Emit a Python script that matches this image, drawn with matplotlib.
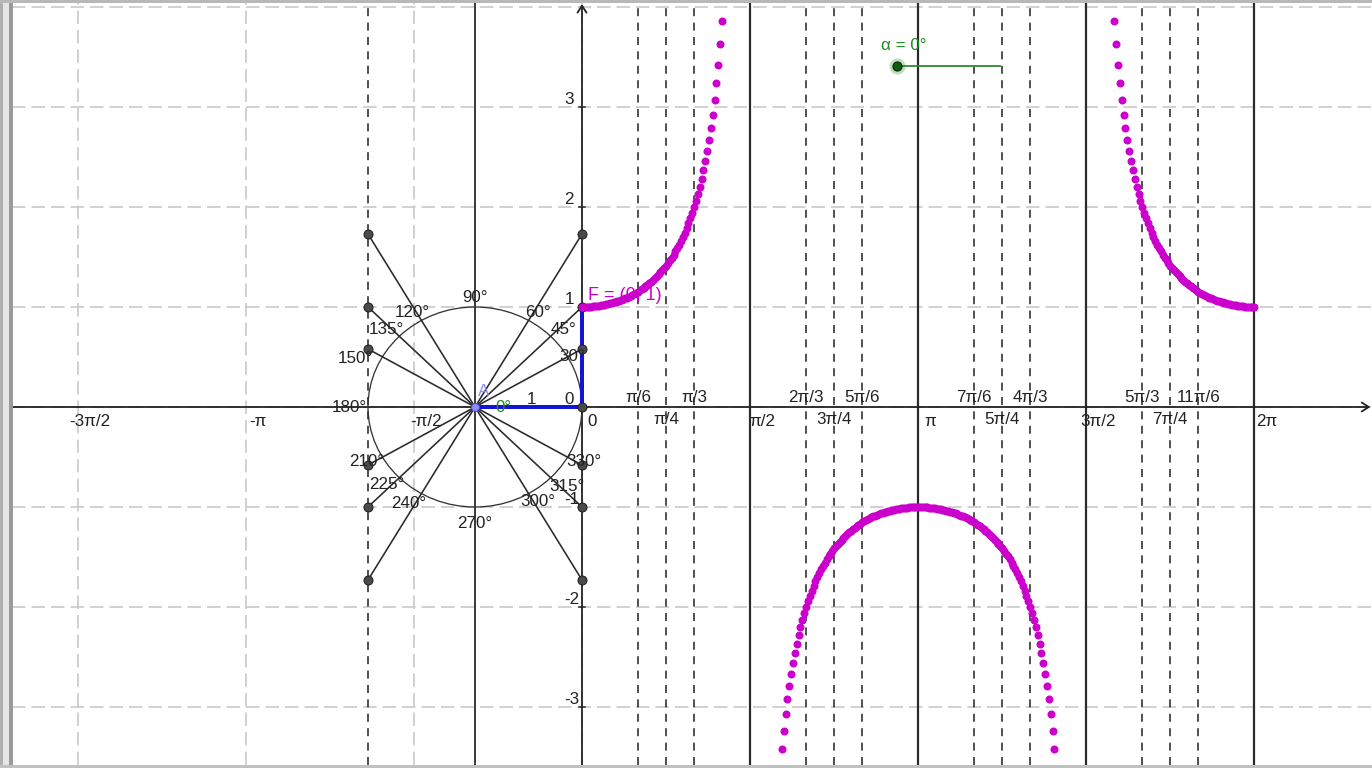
import numpy as np
import matplotlib.pyplot as plt
from matplotlib.patches import Ellipse, Rectangle

plt.rcParams['font.family'] = ['Liberation Sans', 'DejaVu Sans']

# ---- data ----
# F = (alpha, sec alpha), one point per degree; visible parts of the three branches
upper_deg = np.arange(0, 76)
upper_sec = [1.00, 1.00, 1.00, 1.00, 1.00, 1.00, 1.01, 1.01, 1.01, 1.01,
             1.02, 1.02, 1.02, 1.03, 1.03, 1.04, 1.04, 1.05, 1.05, 1.06,
             1.06, 1.07, 1.08, 1.09, 1.09, 1.10, 1.11, 1.12, 1.13, 1.14,
             1.15, 1.17, 1.18, 1.19, 1.21, 1.22, 1.24, 1.25, 1.27, 1.29,
             1.31, 1.33, 1.35, 1.37, 1.39, 1.41, 1.44, 1.47, 1.49, 1.52,
             1.56, 1.59, 1.62, 1.66, 1.70, 1.74, 1.79, 1.84, 1.89, 1.94,
             2.00, 2.06, 2.13, 2.20, 2.28, 2.37, 2.46, 2.56, 2.67, 2.79,
             2.92, 3.07, 3.24, 3.42, 3.63, 3.86]
lower_deg = np.arange(107, 254)
lower_sec = [-3.42, -3.24, -3.07, -2.92, -2.79, -2.67, -2.56, -2.46, -2.37, -2.28,
             -2.20, -2.13, -2.06, -2.00, -1.94, -1.89, -1.84, -1.79, -1.74, -1.70,
             -1.66, -1.62, -1.59, -1.56, -1.52, -1.49, -1.47, -1.44, -1.41, -1.39,
             -1.37, -1.35, -1.33, -1.31, -1.29, -1.27, -1.25, -1.24, -1.22, -1.21,
             -1.19, -1.18, -1.17, -1.15, -1.14, -1.13, -1.12, -1.11, -1.10, -1.09,
             -1.09, -1.08, -1.07, -1.06, -1.06, -1.05, -1.05, -1.04, -1.04, -1.03,
             -1.03, -1.02, -1.02, -1.02, -1.01, -1.01, -1.01, -1.01, -1.00, -1.00,
             -1.00, -1.00, -1.00, -1.00,
             -1.00, -1.00, -1.00, -1.00, -1.00, -1.01, -1.01, -1.01, -1.01, -1.02,
             -1.02, -1.02, -1.03, -1.03, -1.04, -1.04, -1.05, -1.05, -1.06, -1.06,
             -1.07, -1.08, -1.09, -1.09, -1.10, -1.11, -1.12, -1.13, -1.14, -1.15,
             -1.17, -1.18, -1.19, -1.21, -1.22, -1.24, -1.25, -1.27, -1.29, -1.31,
             -1.33, -1.35, -1.37, -1.39, -1.41, -1.44, -1.47, -1.49, -1.52, -1.56,
             -1.59, -1.62, -1.66, -1.70, -1.74, -1.79, -1.84, -1.89, -1.94, -2.00,
             -2.06, -2.13, -2.20, -2.28, -2.37, -2.46, -2.56, -2.67, -2.79, -2.92,
             -3.07, -3.24, -3.42]
right_deg = np.arange(285, 361)
right_sec = [3.86, 3.63, 3.42, 3.24, 3.07, 2.92, 2.79, 2.67, 2.56, 2.46,
             2.37, 2.28, 2.20, 2.13, 2.06, 2.00, 1.94, 1.89, 1.84, 1.79,
             1.74, 1.70, 1.66, 1.62, 1.59, 1.56, 1.52, 1.49, 1.47, 1.44,
             1.41, 1.39, 1.37, 1.35, 1.33, 1.31, 1.29, 1.27, 1.25, 1.24,
             1.22, 1.21, 1.19, 1.18, 1.17, 1.15, 1.14, 1.13, 1.12, 1.11,
             1.10, 1.09, 1.09, 1.08, 1.07, 1.06, 1.06, 1.05, 1.05, 1.04,
             1.04, 1.03, 1.03, 1.02, 1.02, 1.02, 1.01, 1.01, 1.01, 1.01,
             1.00, 1.00, 1.00, 1.00, 1.00, 1.00]

# angle labels round the unit circle
circle_angles = [30, 45, 60, 90, 120, 135, 150, 180, 210, 225, 240, 270, 300, 315, 330]
# points where the rays meet x = 0 / x = -2
tan_x = [0, 0, 0, 0, -2, -2, -2, -2, -2, -2, 0, 0, 0]
tan_y = [0, 0.58, 1, 1.73, 1.73, 1, 0.58, -0.58, -1, -1.73, -1.73, -1, -0.58]

main_mult = [-1.5, -1, -0.5, 0, 0.5, 1, 1.5, 2]
main_labels = ['-3π/2', '-π', '-π/2', '0', 'π/2', 'π', '3π/2', '2π']
special_mult = [1/6, 1/4, 1/3, 2/3, 3/4, 5/6, 7/6, 5/4, 4/3, 5/3, 7/4, 11/6]
special_labels = ['π/6', 'π/4', 'π/3', '2π/3', '3π/4', '5π/6',
                  '7π/6', '5π/4', '4π/3', '5π/3', '7π/4', '11π/6']
special_above = [True, False, True, True, False, True, True, False, True, True, False, True]
y_ticks = [-3, -2, -1, 0, 1, 2, 3]

# ---- figure ----
W, H = 1372, 768
fig = plt.figure(figsize=(W / 72, H / 72), dpi=72)
ox, oy, sx, sy = 582, 407, 107.0, 100.0   # origin pixel and pixels per unit
left_px, top_px, bot_px = 12, 2, 765
ax = fig.add_axes([left_px / W, (H - bot_px) / H, (W - left_px) / W, (bot_px - top_px) / H])
ax.set_xlim((left_px - ox) / sx, (W - ox) / sx)
ax.set_ylim((oy - bot_px) / sy, (oy - top_px) / sy)
ax.set_axis_off()

# window frame
fig.patches.append(Rectangle((0, 0), 3 / W, 1, transform=fig.transFigure, color='#b0b0b0', zorder=0))
fig.patches.append(Rectangle((3 / W, 0), 6 / W, 1, transform=fig.transFigure, color='#e6e6e6', zorder=0))
fig.patches.append(Rectangle((9 / W, 0), 3 / W, 1, transform=fig.transFigure, color='#9a9a9a', zorder=0))
fig.patches.append(Rectangle((0, 1 - 2 / H), 1, 2 / H, transform=fig.transFigure, color='#b8b8b8', zorder=0))
fig.patches.append(Rectangle((0, 0), 1, 3 / H, transform=fig.transFigure, color='#c0c0c0', zorder=0))

grid_kw = dict(color='#c4c4c4', lw=1.5, dashes=(9, 4), zorder=1)
for m in main_mult:
    ax.axvline(m * np.pi, **grid_kw)
for y in range(-4, 5):
    ax.axhline(y, **grid_kw)

# vertical marker lines
for m in [0.5, 1, 1.5, 2]:
    ax.axvline(m * np.pi, color='#2a2a2a', lw=2.2, zorder=2)
ax.axvline(-1, color='#2a2a2a', lw=1.8, zorder=2)
for m in special_mult:
    ax.axvline(m * np.pi, color='#2a2a2a', lw=1.6, dashes=(5, 4), zorder=2)
ax.axvline(-2, color='#2a2a2a', lw=1.6, dashes=(5, 4), zorder=2)

# axes with arrows
xl, yl = ax.get_xlim(), ax.get_ylim()
ax.annotate('', xy=(xl[1] - 0.015, 0), xytext=(xl[0], 0),
            arrowprops=dict(arrowstyle='->,head_length=0.7,head_width=0.45', lw=1.8,
                            color='#222222', shrinkA=0, shrinkB=0), zorder=3)
ax.annotate('', xy=(0, yl[1] - 0.02), xytext=(0, yl[0]),
            arrowprops=dict(arrowstyle='->,head_length=0.7,head_width=0.45', lw=1.8,
                            color='#222222', shrinkA=0, shrinkB=0), zorder=3)

# unit circle and rays
ax.add_patch(Ellipse((-1, 0), 2, 2, fill=False, ec='#333333', lw=1.3, zorder=3))
for x, y in zip(tan_x, tan_y):
    ax.plot([-1, x], [0, y], color='#2a2a2a', lw=1.6, zorder=3)

# blue segments
ax.plot([-1, 0], [0, 0], color='#1414d2', lw=4, solid_capstyle='butt', zorder=4)
ax.plot([0, 0], [0, 1], color='#1414d2', lw=4, solid_capstyle='butt', zorder=4)

ax.plot(tan_x, tan_y, 'o', ms=9, mfc='#4a4a4a', mec='#1e1e1e', mew=1, zorder=5)
ax.plot([-1], [0], 'o', ms=8, mfc='#8c8cff', mec='#5050c0', mew=1, zorder=5)

# F = (alpha, sec alpha)
ax.text(0.055, 1.12, 'F = (0, 1)', color='#cc00cc', fontsize=18, ha='left', va='center', zorder=5)
for deg, val in [(upper_deg, upper_sec), (lower_deg, lower_sec), (right_deg, right_sec)]:
    ax.plot(np.radians(deg), val, 'o', ms=8, color='#cc00cc', mec='none', zorder=6)

txt_kw = dict(fontsize=17, color='#222222', zorder=7)

# angle labels (pixel nudges where the labels sit off the ellipse)
nudge = {30: (-11, -4), 150: (-11, -6), 270: (0, -8), 240: (-4, -2), 315: (3, -2)}
for a in circle_angles:
    r = np.radians(a)
    dx, dy = nudge.get(a, (0, 0))
    ax.annotate(f'{a}°', (-1 + 1.17 * np.cos(r), 1.09 * np.sin(r)), xytext=(dx, dy),
                textcoords='offset points', ha='center', va='center', **txt_kw)
ax.text(-0.73, 0.0, '0°', ha='center', va='center', fontsize=17, color='#1f8a1f', zorder=7)
ax.text(-0.475, 0.07, '1', ha='center', va='center', **txt_kw)
ax.text(-0.92, 0.15, 'A', ha='center', va='center', fontsize=17, color='#8c8cff', zorder=7)

# x labels
for m, lab in zip(main_mult, main_labels):
    ax.annotate(lab, (m * np.pi, 0), xytext=(12 if m else 10, -14), textcoords='offset points',
                ha='center', va='center', **txt_kw)
for m, lab, up in zip(special_mult, special_labels, special_above):
    ax.annotate(lab, (m * np.pi, 0), xytext=(0, 9 if up else -12), textcoords='offset points',
                ha='center', va='center', **txt_kw)

# y labels and ticks
for y in y_ticks:
    ax.annotate(str(y), (0, y), xytext=(-8 if y >= 0 else -3, 8), textcoords='offset points',
                ha='right', va='center', **txt_kw)
    if y != 0:
        ax.plot([-0.03, 0.03], [y, y], color='#222222', lw=1.5, zorder=3)

# slider alpha
ax.text(2.79, 3.62, 'α = 0°', ha='left', va='center', fontsize=17, color='#1f8a1f', zorder=7)
ax.plot([2.944, 3.906], [3.41, 3.41], color='#2e8b2e', lw=1.8, zorder=6)
ax.plot([2.944], [3.41], 'o', ms=16, color='#2e8b2e', alpha=0.3, mec='none', zorder=6)
ax.plot([2.944], [3.41], 'o', ms=9, mfc='#0b5e0b', mec='#0a2a0a', mew=1.2, zorder=7)

fig.savefig('out.png', dpi=72, facecolor='white')
